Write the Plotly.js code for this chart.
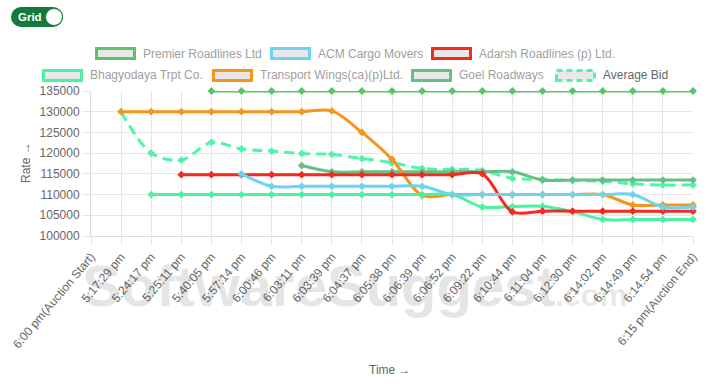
<!DOCTYPE html>
<html>
<head>
<meta charset="utf-8">
<script src="https://cdn.plot.ly/plotly-3.0.1.min.js"></script>
<style>
  body { margin: 0; background: #fff; }
  #wrap { position: relative; width: 710px; height: 386px; }
  #chart { width: 710px; height: 386px; }
  #toggle { position: absolute; left: 11px; top: 7px; width: 52px; height: 20px; border-radius: 10px;
            background: #147a3c; font-family: "Liberation Sans", Arial, sans-serif; }
  #toggle span { position: absolute; left: 7px; top: 3px; color: #fff; font-size: 11.5px; font-weight: bold; line-height: 14px; }
  #knob { position: absolute; left: 34px; top: 1px; width: 16px; height: 16px; border-radius: 50%; background: #fff;
          border: 1px solid #147a3c; }
</style>
</head>
<body>
<div id="wrap">
  <div id="chart"></div>
  <div id="toggle"><span>Grid</span><div id="knob"></div></div>
</div>
<script>
const categories = ["6:00 pm(Auction Start)", "5:17:29 pm", "5:24:17 pm", "5:25:11 pm", "5:40:05 pm", "5:57:14 pm",
  "6:00:46 pm", "6:03:11 pm", "6:03:39 pm", "6:04:37 pm", "6:05:38 pm", "6:06:39 pm", "6:06:52 pm", "6:09:22 pm",
  "6:10:44 pm", "6:11:04 pm", "6:12:30 pm", "6:14:02 pm", "6:14:49 pm", "6:14:54 pm", "6:15 pm(Auction End)"];

const premierRoadlines = [null, null, null, null, 135000, 135000, 135000, 135000, 135000, 135000, 135000, 135000,
  135000, 135000, 135000, 135000, 135000, 135000, 135000, 135000, 135000];
const acmCargo = [null, null, null, null, null, 115000, 112000, 112000, 112000, 112000, 112000, 112000,
  110000, 110000, 110000, 110000, 110000, 110000, 110000, 107000, 107000];
const adarshRoadlines = [null, null, null, 114800, 114800, 114800, 114800, 114800, 114800, 114800, 114800, 114800,
  114800, 115000, 105800, 106000, 106000, 106000, 106000, 106000, 106000];
const bhagyodaya = [null, null, 110000, 110000, 110000, 110000, 110000, 110000, 110000, 110000, 110000, 110000,
  110000, 107000, 107100, 107200, 105900, 104000, 104000, 104000, 104000];
const transportWings = [null, 130000, 130000, 130000, 130000, 130000, 130000, 130000, 130200, 125000, 118500, 109800,
  110000, 110000, 110000, 110000, 110000, 110000, 107500, 107500, 107500];
const goelRoadways = [null, null, null, null, null, null, null, 117000, 115500, 115500, 115500, 115500,
  115500, 115500, 115500, 113500, 113500, 113500, 113500, 113500, 113500];
const averageBid = [null, 130000, 120000, 118300, 122600, 121000, 120500, 119900, 119700, 118700, 117700, 116300,
  116100, 115800, 113900, 113700, 113400, 113200, 112600, 112300, 112300];

const seriesNames = ["Premier Roadlines Ltd", "ACM Cargo Movers", "Adarsh Roadlines (p) Ltd.", "Bhagyodaya Trpt Co.",
  "Transport Wings(ca)(p)Ltd.", "Goel Roadways", "Average Bid"];
const yTickVals = [100000, 105000, 110000, 115000, 120000, 125000, 130000, 135000];

const seriesData = [premierRoadlines, acmCargo, adarshRoadlines, bhagyodaya, transportWings, goelRoadways, averageBid];
const colors = ["#5cc468", "#6fd3ee", "#f42a1e", "#4ef0a5", "#f7941d", "#68bf84", "#4ef5a8"];
const dashes = ["solid", "solid", "solid", "solid", "solid", "solid", "10px,6px"];

// Chart.js draws the first dataset on top: add traces in reverse order
const traces = [];
for (let i = seriesData.length - 1; i >= 0; i--) {
  traces.push({
    type: "scatter", mode: "lines+markers", name: seriesNames[i],
    x: categories, y: seriesData[i],
    line: { color: colors[i], width: 3, shape: "spline", smoothing: 0.9, dash: dashes[i] },
    marker: { color: colors[i], size: 6, symbol: "diamond" },
    cliponaxis: false, showlegend: false, hoverinfo: "x+y+name"
  });
}

const L = 91, R = 693, T = 91, B = 236;
const X = px => (px - L) / (R - L);
const Y = py => (B - py) / (B - T);

const legendPos = [[95, 53.5], [270, 53.5], [431, 53.5], [42, 75.5], [212, 75.5], [411, 75.5], [555, 75.5]];
const shapes = [];
const annotations = [];
seriesNames.forEach((n, i) => {
  const [bx, by] = legendPos[i];
  shapes.push({ type: "rect", xref: "paper", yref: "paper",
    x0: X(bx + 1.5), x1: X(bx + 39.5), y0: Y(by + 5), y1: Y(by - 5),
    fillcolor: "#e8e8e8", line: { color: colors[i], width: 3, dash: i === 6 ? "6px,4px" : "solid" } });
  annotations.push({ xref: "paper", yref: "paper", x: X(bx + 46), y: Y(by), xanchor: "left", yanchor: "middle",
    text: n, showarrow: false,
    font: { family: "Liberation Sans, Arial, sans-serif", size: 12, color: i === 6 ? "#666" : "#a0a0a0" } });
});
annotations.push({ xref: "paper", yref: "paper", x: X(26), y: Y(163), xanchor: "center", yanchor: "middle",
  text: "Rate →", textangle: -90,
  showarrow: false, font: { family: "Liberation Sans, Arial, sans-serif", size: 12, color: "#666" } });
annotations.push({ xref: "paper", yref: "paper", x: X(390), y: Y(370), xanchor: "center", yanchor: "middle",
  text: "Time →",
  showarrow: false, font: { family: "Liberation Sans, Arial, sans-serif", size: 12, color: "#666" } });
// watermark
annotations.push({ xref: "paper", yref: "paper", x: X(80), y: Y(285), xanchor: "left", yanchor: "middle",
  text: "<b>SoftwareSuggest</b>", showarrow: false,
  font: { family: "Liberation Sans, Arial, sans-serif", size: 58, color: "rgba(0,0,0,0.1)" } });
annotations.push({ xref: "paper", yref: "paper", x: X(553), y: Y(295), xanchor: "left", yanchor: "middle",
  text: "<b>.com</b>", showarrow: false,
  font: { family: "Liberation Sans, Arial, sans-serif", size: 31, color: "rgba(0,0,0,0.1)" } });

const layout = {
  width: 710, height: 386,
  margin: { l: L, r: 710 - R, t: T, b: 386 - B, pad: 0 },
  paper_bgcolor: "#fff", plot_bgcolor: "#fff",
  font: { family: "Liberation Sans, Arial, sans-serif", size: 12, color: "#666" },
  showlegend: false,
  xaxis: {
    type: "category", range: [0, categories.length - 1], tickangle: -50,
    showgrid: true, gridcolor: "#e6e6e6", gridwidth: 1,
    ticks: "outside", ticklen: 8, tickcolor: "#e6e6e6",
    showline: true, linecolor: "#dcdcdc", linewidth: 1, zeroline: false,
    tickfont: { size: 12, color: "#666" }, fixedrange: true
  },
  yaxis: {
    range: [100000, 135000], tickvals: yTickVals, tickformat: "d",
    showgrid: true, gridcolor: "#e6e6e6", gridwidth: 1,
    ticks: "outside", ticklen: 8, tickcolor: "#e6e6e6",
    showline: true, linecolor: "#dcdcdc", linewidth: 1, zeroline: false,
    tickfont: { size: 12, color: "#666" }, fixedrange: true
  },
  shapes: shapes,
  annotations: annotations
};

Plotly.newPlot("chart", traces, layout, { displayModeBar: false, staticPlot: true });
</script>
</body>
</html>
